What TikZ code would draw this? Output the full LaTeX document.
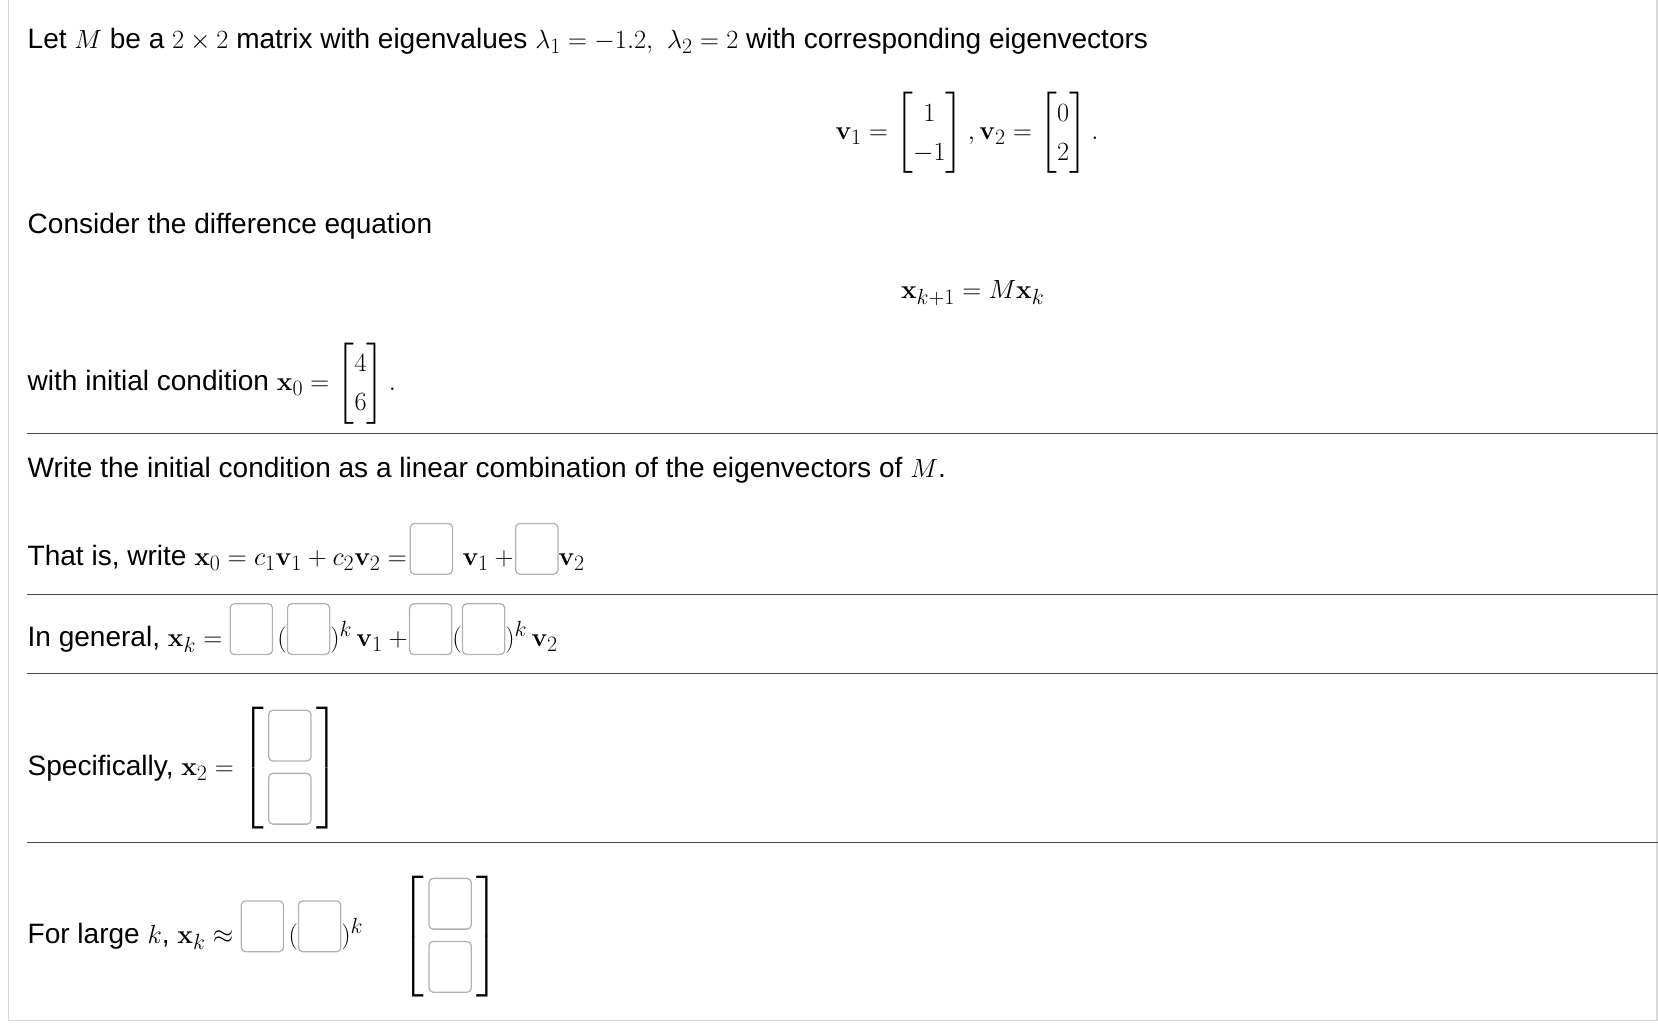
\documentclass[tikz,border=0pt]{standalone}
\usepackage{amsmath,amssymb}
\usepackage[no-math]{fontspec}
\setmainfont{Liberation Sans}
\newcommand\mm[1]{{\fontsize{32}{37}\selectfont$#1$}}
\newcommand\bx{\tikz[baseline={(0,-0.3em)}]\draw[gray!60,rounded corners=4pt,line width=1.2pt](0,-0.55em) rectangle (1.25em,0.95em);}
\tikzset{txt/.style={anchor=base west,inner sep=0pt,font=\fontsize{26.5}{31}\selectfont}, rule/.style={line width=1pt,black!70}}
\begin{document}
\begin{tikzpicture}[x=1pt,y=-1pt]
\useasboundingbox (0,0) rectangle (1568,970);
\draw[gray!30,line width=1.5pt] (8,-2) rectangle (1567,965);
\node[txt] (l1) at (26,46) {Let \mm{M} be a \mm{2\times 2} matrix with eigenvalues \mm{\lambda_1=-1.2,\ \lambda_2=2} with corresponding eigenvectors};
\node[txt] (ev) at (790,132) {\mm{\mathbf{v}_1=\begin{bmatrix}1\\-1\end{bmatrix},\mathbf{v}_2=\begin{bmatrix}0\\2\end{bmatrix}.}};
\node[txt] (l2) at (26,221) {Consider the difference equation};
\node[txt] (de) at (852,282) {\mm{\mathbf{x}_{k+1}=M\mathbf{x}_k}};
\node[txt] (l3) at (26,369) {with initial condition \mm{\mathbf{x}_0=\begin{bmatrix}4\\6\end{bmatrix}.}};
\draw[rule] (26,410) -- (1568,410);
\node[txt] (l4) at (26,452) {Write the initial condition as a linear combination of the eigenvectors of \mm{M}.};
\node[txt] (l5) at (26,535) {That is, write \mm{\mathbf{x}_0=c_1\mathbf{v}_1+c_2\mathbf{v}_2=\!\bx\ \mathbf{v}_1+\!\bx\mathbf{v}_2}};
\draw[rule] (26,562) -- (1568,562);
\node[txt] (l6) at (26,611) {In general, \mm{\mathbf{x}_k=\bx\,(\bx)^k\,\mathbf{v}_1+\!\bx(\bx)^k\,\mathbf{v}_2}};
\draw[rule] (26,637) -- (1568,637);
\node[txt] (l7) at (26,733) {Specifically, \mm{\mathbf{x}_2=\begin{bmatrix}\,\bx\,\\[8pt]\,\bx\,\end{bmatrix}}};
\draw[rule] (26,797) -- (1568,797);
\node[txt] (l8) at (26,892) {For large \mm{k}, \mm{\mathbf{x}_k\approx\bx\,(\bx)^k\quad\begin{bmatrix}\,\bx\,\\[8pt]\,\bx\,\end{bmatrix}}};
\end{tikzpicture}
\end{document}
